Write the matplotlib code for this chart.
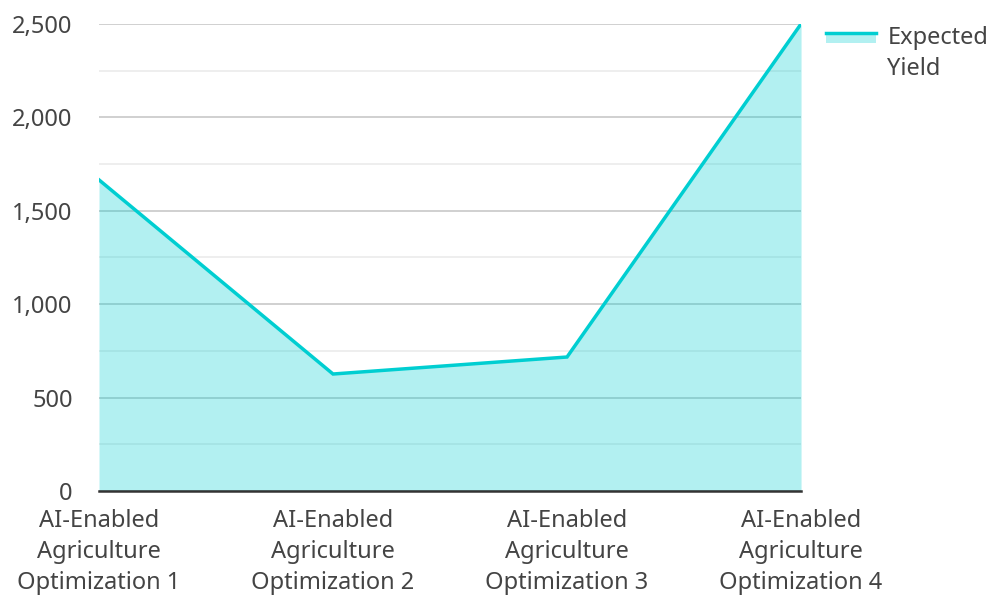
import matplotlib.pyplot as plt
import matplotlib.patches as mpatches
from matplotlib.lines import Line2D
from matplotlib.legend_handler import HandlerBase
from matplotlib.ticker import FuncFormatter, MultipleLocator

plt.rcParams['font.family'] = ['Noto Sans', 'DejaVu Sans']

categories = ['AI-Enabled\nAgriculture\nOptimization 1', 'AI-Enabled\nAgriculture\nOptimization 2',
              'AI-Enabled\nAgriculture\nOptimization 3', 'AI-Enabled\nAgriculture\nOptimization 4']
expected_yield = [1665, 626, 717, 2500]

line_color = '#00CED1'
text_color = '#444444'


class LineAreaHandler(HandlerBase):
    def create_artists(self, legend, orig_handle, xdescent, ydescent, width, height, fontsize, trans):
        mid = height - ydescent + 9
        bottom = mid - 7.5
        patch = mpatches.Rectangle((-xdescent, bottom), width, mid - bottom,
                                   facecolor=line_color, alpha=0.3, edgecolor='none', transform=trans)
        line = Line2D([-xdescent, -xdescent + width], [mid, mid], color=line_color, lw=2.5, transform=trans)
        return [patch, line]


fig = plt.figure(figsize=(9.93, 5.97), dpi=100)
ax = fig.add_axes([0.0997, 0.1776, 0.707, 0.7824])

x = range(len(categories))
ax.fill_between(x, expected_yield, 0, color=line_color, alpha=0.3, linewidth=0, zorder=2)
ax.plot(x, expected_yield, color=line_color, lw=2.5, zorder=3, solid_joinstyle='miter')

ax.set_xlim(0, len(categories) - 1)
ax.set_ylim(0, 2500)
ax.yaxis.set_major_locator(MultipleLocator(500))
ax.yaxis.set_minor_locator(MultipleLocator(250))
ax.yaxis.set_major_formatter(FuncFormatter(lambda v, p: f'{int(v):,}'))
ax.grid(True, which='major', axis='y', color='#c8c8c8', lw=1.2, zorder=0)
ax.grid(True, which='minor', axis='y', color='#ebebeb', lw=1.2, zorder=0)
ax.set_axisbelow(True)

ax.set_xticks(list(x))
ax.set_xticklabels(categories, fontsize=17, color=text_color, linespacing=1.38)
ax.tick_params(axis='y', which='both', length=0, labelsize=17, labelcolor=text_color, pad=19)
ax.tick_params(axis='x', length=0, pad=13)

for side in ['left', 'right', 'top']:
    ax.spines[side].set_visible(False)
ax.spines['bottom'].set_color('#333333')
ax.spines['bottom'].set_linewidth(1.8)
ax.spines['bottom'].set_zorder(4)

handle = object()
leg = fig.legend([handle], ['Expected\nYield'], handler_map={object: LineAreaHandler()},
                 loc='upper left', bbox_to_anchor=(826 / 993, 0.957), frameon=False, fontsize=17,
                 borderpad=0, borderaxespad=0, handlelength=2.1, handletextpad=0.5,
                 labelcolor=text_color)
for t in leg.get_texts():
    t.set_linespacing(1.38)

fig.savefig('out.png', dpi=100)
